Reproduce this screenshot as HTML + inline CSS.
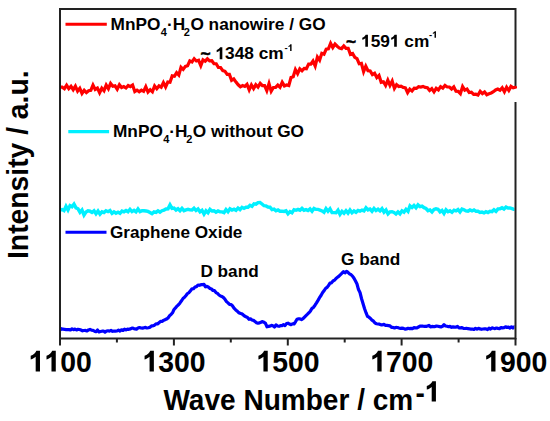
<!DOCTYPE html>
<html><head><meta charset="utf-8"><style>
html,body{margin:0;padding:0;background:#fff;width:550px;height:421px;overflow:hidden}
svg{display:block}
text{font-family:"Liberation Sans",sans-serif;font-weight:bold;fill:#000;white-space:pre}
</style></head><body>
<svg width="550" height="421" viewBox="0 0 550 421">
<rect x="0" y="0" width="550" height="421" fill="#fff"/>
<defs><clipPath id="cp"><rect x="61" y="0" width="489" height="421"/></clipPath><clipPath id="cp2"><rect x="61" y="0" width="453.5" height="421"/></clipPath></defs>
<g fill="none" stroke-linejoin="round" stroke-linecap="round" clip-path="url(#cp2)">
<path d="M60.0,330.0 L61.5,328.7 L63.0,329.2 L64.5,329.3 L66.0,329.6 L67.5,329.6 L69.0,329.6 L70.5,330.0 L72.0,328.8 L73.5,329.7 L75.0,329.1 L76.5,330.0 L78.0,329.3 L79.5,329.5 L81.0,330.0 L82.5,330.8 L84.0,330.5 L85.5,330.4 L87.0,331.0 L88.5,329.9 L90.0,329.4 L91.5,330.2 L93.0,330.4 L94.5,331.2 L96.0,331.7 L97.5,330.0 L99.0,331.9 L100.5,331.5 L102.0,331.2 L103.5,331.0 L105.0,332.1 L106.5,331.0 L108.0,330.8 L109.5,331.1 L111.0,330.4 L112.5,331.3 L114.0,331.0 L115.5,331.1 L117.0,331.0 L118.5,330.1 L120.0,331.1 L121.5,329.8 L123.0,330.5 L124.5,329.1 L126.0,329.9 L127.5,329.1 L129.0,329.3 L130.5,328.9 L132.0,328.0 L133.5,328.4 L135.0,328.9 L136.5,329.1 L138.0,328.0 L139.5,327.5 L141.0,328.0 L142.5,328.2 L144.0,327.7 L145.5,327.4 L147.0,328.0 L148.5,327.7 L150.0,327.2 L151.5,325.9 L153.0,325.9 L154.5,325.2 L156.0,323.8 L157.5,324.0 L159.0,322.7 L160.5,321.4 L162.0,321.5 L163.5,320.4 L165.0,319.7 L166.5,319.1 L168.0,318.0 L169.5,315.8 L171.0,314.6 L172.5,312.8 L174.0,309.5 L175.5,307.9 L177.0,306.1 L178.5,304.8 L180.0,302.9 L181.5,300.8 L183.0,298.5 L184.5,297.3 L186.0,295.5 L187.5,293.5 L189.0,292.6 L190.5,290.7 L192.0,288.8 L193.5,288.7 L195.0,287.0 L196.5,286.6 L198.0,285.0 L199.5,285.3 L201.0,284.7 L202.5,284.6 L204.0,284.4 L205.5,286.8 L207.0,286.3 L208.5,287.2 L210.0,288.5 L211.5,289.0 L213.0,290.5 L214.5,290.7 L216.0,292.6 L217.5,293.4 L219.0,295.0 L220.5,296.0 L222.0,296.5 L223.5,297.6 L225.0,299.3 L226.5,301.6 L228.0,302.9 L229.5,304.4 L231.0,304.6 L232.5,305.8 L234.0,308.2 L235.5,309.7 L237.0,310.9 L238.5,312.5 L240.0,313.3 L241.5,313.7 L243.0,314.7 L244.5,316.0 L246.0,316.8 L247.5,317.4 L249.0,319.3 L250.5,318.9 L252.0,320.0 L253.5,320.4 L255.0,321.5 L256.5,322.7 L258.0,323.2 L259.5,322.9 L261.0,322.2 L262.5,321.6 L264.0,322.3 L265.5,323.4 L267.0,326.8 L268.5,326.4 L270.0,326.1 L271.5,325.4 L273.0,325.7 L274.5,327.0 L276.0,324.9 L277.5,326.0 L279.0,326.3 L280.5,325.7 L282.0,325.6 L283.5,324.7 L285.0,325.6 L286.5,323.6 L288.0,323.2 L289.5,324.1 L291.0,324.7 L292.5,323.9 L294.0,324.0 L295.5,321.8 L297.0,319.2 L298.5,318.8 L300.0,318.9 L301.5,319.6 L303.0,318.7 L304.5,317.1 L306.0,315.6 L307.5,314.2 L309.0,312.7 L310.5,310.9 L312.0,308.3 L313.5,307.3 L315.0,305.2 L316.5,302.9 L318.0,300.4 L319.5,297.7 L321.0,295.5 L322.5,292.8 L324.0,290.8 L325.5,288.5 L327.0,287.4 L328.5,285.6 L330.0,283.0 L331.5,282.8 L333.0,281.0 L334.5,280.2 L336.0,278.4 L337.5,277.2 L339.0,276.1 L340.5,274.7 L342.0,273.2 L343.5,271.6 L345.0,272.9 L346.5,271.3 L348.0,272.4 L349.5,273.8 L351.0,274.7 L352.5,276.1 L354.0,278.2 L355.5,281.0 L357.0,284.0 L358.5,289.6 L360.0,292.5 L361.5,298.5 L363.0,303.5 L364.5,308.5 L366.0,312.7 L367.5,316.3 L369.0,317.2 L370.5,318.5 L372.0,320.2 L373.5,321.2 L375.0,323.1 L376.5,323.7 L378.0,324.0 L379.5,324.2 L381.0,324.8 L382.5,324.8 L384.0,324.4 L385.5,325.3 L387.0,325.4 L388.5,325.6 L390.0,325.9 L391.5,327.4 L393.0,327.4 L394.5,327.9 L396.0,327.4 L397.5,327.5 L399.0,328.0 L400.5,328.4 L402.0,328.2 L403.5,328.4 L405.0,329.1 L406.5,328.9 L408.0,328.3 L409.5,328.6 L411.0,328.4 L412.5,328.6 L414.0,327.7 L415.5,327.8 L417.0,327.8 L418.5,327.0 L420.0,326.2 L421.5,326.0 L423.0,326.2 L424.5,326.3 L426.0,326.4 L427.5,325.9 L429.0,325.4 L430.5,326.9 L432.0,326.4 L433.5,326.6 L435.0,326.6 L436.5,326.0 L438.0,326.3 L439.5,326.6 L441.0,326.9 L442.5,326.3 L444.0,324.7 L445.5,326.0 L447.0,326.3 L448.5,326.7 L450.0,326.4 L451.5,327.3 L453.0,326.9 L454.5,327.1 L456.0,327.2 L457.5,326.4 L459.0,327.8 L460.5,327.9 L462.0,327.6 L463.5,328.4 L465.0,328.5 L466.5,328.3 L468.0,328.7 L469.5,328.8 L471.0,329.2 L472.5,329.0 L474.0,329.5 L475.5,328.3 L477.0,329.1 L478.5,328.3 L480.0,328.9 L481.5,329.3 L483.0,329.0 L484.5,328.8 L486.0,328.9 L487.5,329.6 L489.0,328.2 L490.5,329.1 L492.0,327.9 L493.5,328.3 L495.0,328.6 L496.5,328.0 L498.0,328.4 L499.5,328.6 L501.0,327.5 L502.5,327.9 L504.0,327.7 L505.5,326.8 L507.0,327.5 L508.5,327.1 L510.0,328.1 L511.5,326.8 L513.0,328.0 L514.5,326.8" stroke="#0000ff" stroke-width="3.2"/>
<path d="M60.0,209.8 L62.0,209.6 L64.0,210.6 L66.0,206.3 L68.0,209.9 L70.0,205.6 L72.0,206.8 L74.0,204.1 L76.0,207.9 L78.0,208.8 L80.0,212.3 L82.0,210.0 L84.0,215.1 L86.0,212.1 L88.0,210.8 L90.0,211.2 L92.0,212.5 L94.0,210.8 L96.0,213.8 L98.0,211.0 L100.0,214.2 L102.0,211.8 L104.0,212.6 L106.0,210.8 L108.0,211.7 L110.0,210.5 L112.0,213.4 L114.0,211.8 L116.0,213.2 L118.0,212.1 L120.0,213.3 L122.0,211.1 L124.0,211.8 L126.0,210.6 L128.0,211.8 L130.0,209.3 L132.0,211.6 L134.0,210.3 L136.0,211.9 L138.0,209.0 L140.0,211.7 L142.0,210.7 L144.0,210.7 L146.0,211.0 L148.0,211.4 L150.0,212.5 L152.0,213.7 L154.0,211.9 L156.0,212.4 L158.0,210.8 L160.0,212.2 L162.0,210.7 L164.0,210.1 L166.0,209.0 L168.0,208.8 L170.0,204.9 L172.0,208.4 L174.0,208.1 L176.0,210.0 L178.0,208.7 L180.0,210.7 L182.0,208.3 L184.0,210.6 L186.0,209.8 L188.0,209.3 L190.0,209.9 L192.0,210.0 L194.0,208.2 L196.0,210.5 L198.0,209.0 L200.0,211.8 L202.0,210.3 L204.0,214.1 L206.0,210.8 L208.0,212.7 L210.0,209.3 L212.0,211.0 L214.0,210.7 L216.0,212.2 L218.0,211.0 L220.0,211.9 L222.0,211.9 L224.0,212.6 L226.0,209.5 L228.0,211.8 L230.0,208.8 L232.0,210.0 L234.0,209.2 L236.0,210.3 L238.0,208.0 L240.0,209.6 L242.0,207.3 L244.0,208.4 L246.0,207.2 L248.0,207.3 L250.0,205.3 L252.0,206.4 L254.0,203.8 L256.0,204.2 L258.0,202.6 L260.0,202.4 L262.0,204.0 L264.0,205.7 L266.0,205.9 L268.0,207.0 L270.0,207.2 L272.0,209.6 L274.0,209.1 L276.0,210.8 L278.0,210.0 L280.0,211.3 L282.0,211.1 L284.0,211.4 L286.0,210.8 L288.0,213.8 L290.0,211.7 L292.0,212.8 L294.0,209.7 L296.0,210.3 L298.0,209.4 L300.0,210.3 L302.0,208.4 L304.0,210.3 L306.0,209.6 L308.0,210.5 L310.0,208.9 L312.0,211.2 L314.0,208.4 L316.0,209.4 L318.0,209.4 L320.0,210.1 L322.0,210.9 L324.0,212.3 L326.0,208.6 L328.0,211.3 L330.0,208.8 L332.0,212.6 L334.0,212.6 L336.0,212.8 L338.0,210.2 L340.0,214.3 L342.0,211.4 L344.0,213.2 L346.0,210.7 L348.0,213.1 L350.0,210.0 L352.0,212.8 L354.0,211.0 L356.0,212.3 L358.0,210.5 L360.0,211.2 L362.0,210.1 L364.0,210.9 L366.0,207.8 L368.0,209.9 L370.0,209.0 L372.0,211.2 L374.0,208.4 L376.0,210.6 L378.0,209.2 L380.0,210.9 L382.0,208.6 L384.0,212.1 L386.0,210.0 L388.0,213.8 L390.0,211.8 L392.0,211.7 L394.0,212.4 L396.0,214.0 L398.0,211.9 L400.0,213.8 L402.0,210.8 L404.0,212.2 L406.0,209.3 L408.0,211.3 L410.0,205.9 L412.0,207.5 L414.0,205.5 L416.0,207.7 L418.0,204.9 L420.0,206.7 L422.0,206.1 L424.0,207.7 L426.0,208.5 L428.0,210.7 L430.0,210.0 L432.0,212.0 L434.0,209.5 L436.0,208.8 L438.0,209.3 L440.0,211.9 L442.0,210.5 L444.0,213.5 L446.0,209.8 L448.0,211.8 L450.0,210.8 L452.0,212.3 L454.0,210.2 L456.0,210.9 L458.0,209.6 L460.0,211.9 L462.0,209.1 L464.0,209.7 L466.0,210.9 L468.0,211.3 L470.0,210.0 L472.0,210.9 L474.0,209.9 L476.0,211.3 L478.0,211.3 L480.0,212.5 L482.0,212.1 L484.0,212.9 L486.0,211.7 L488.0,212.5 L490.0,211.3 L492.0,211.6 L494.0,209.8 L496.0,211.3 L498.0,208.9 L500.0,208.8 L502.0,207.7 L504.0,209.0 L506.0,207.1 L508.0,208.0 L510.0,207.9 L512.0,208.6 L514.0,209.3" stroke="#00f0ff" stroke-width="3.4" stroke-linejoin="miter"/>
</g>
<g stroke="#222" stroke-width="2" fill="none">
<rect x="60" y="9" width="455.5" height="329.5"/>
<line x1="60.0" y1="338" x2="60.0" y2="345.5"/><line x1="116.9" y1="338" x2="116.9" y2="342.5"/><line x1="173.9" y1="338" x2="173.9" y2="345.5"/><line x1="230.8" y1="338" x2="230.8" y2="342.5"/><line x1="287.8" y1="338" x2="287.8" y2="345.5"/><line x1="344.7" y1="338" x2="344.7" y2="342.5"/><line x1="401.6" y1="338" x2="401.6" y2="345.5"/><line x1="458.6" y1="338" x2="458.6" y2="342.5"/><line x1="515.5" y1="338" x2="515.5" y2="345.5"/>
</g>
<rect x="513" y="87" width="5" height="15" fill="#fff"/>
<path clip-path="url(#cp)" d="M60.0,87.2 L62.2,87.2 L64.4,88.7 L66.6,85.2 L68.8,88.7 L71.0,86.4 L73.2,89.7 L75.4,86.2 L77.6,91.1 L79.8,88.3 L82.0,93.4 L84.2,90.3 L86.4,92.6 L88.6,90.7 L90.8,90.3 L93.0,85.1 L95.2,89.4 L97.4,88.1 L99.6,92.7 L101.8,88.2 L104.0,90.7 L106.2,85.1 L108.4,88.7 L110.6,83.4 L112.8,86.2 L115.0,85.8 L117.2,89.2 L119.4,84.7 L121.6,87.5 L123.8,86.6 L126.0,88.0 L128.2,85.5 L130.4,86.6 L132.6,85.0 L134.8,91.5 L137.0,90.1 L139.2,91.8 L141.4,90.2 L143.6,91.4 L145.8,86.7 L148.0,92.0 L150.2,89.7 L152.4,91.7 L154.6,85.9 L156.8,88.7 L159.0,85.9 L161.2,87.2 L163.4,82.6 L165.6,87.0 L167.8,82.0 L170.0,82.3 L172.2,75.9 L174.4,76.3 L176.6,72.6 L178.8,75.1 L181.0,67.3 L183.2,69.4 L185.4,66.4 L187.6,65.7 L189.8,60.9 L192.0,62.0 L194.2,58.7 L196.4,61.0 L198.6,60.3 L200.8,65.7 L203.0,59.9 L205.2,61.2 L207.4,58.8 L209.6,60.9 L211.8,60.7 L214.0,63.6 L216.2,63.7 L218.4,67.5 L220.6,67.5 L222.8,70.6 L225.0,71.3 L227.2,74.4 L229.4,74.4 L231.6,80.4 L233.8,79.0 L236.0,82.1 L238.2,84.8 L240.4,86.8 L242.6,85.6 L244.8,86.4 L247.0,84.3 L249.2,89.9 L251.4,84.9 L253.6,88.6 L255.8,84.7 L258.0,87.1 L260.2,83.4 L262.4,85.7 L264.6,85.7 L266.8,90.7 L269.0,83.6 L271.2,91.2 L273.4,87.5 L275.6,87.4 L277.8,85.1 L280.0,87.3 L282.2,82.3 L284.4,85.9 L286.6,85.0 L288.8,85.6 L291.0,77.5 L293.2,76.7 L295.4,69.6 L297.6,73.7 L299.8,68.8 L302.0,70.7 L304.2,68.4 L306.4,68.7 L308.6,64.1 L310.8,64.2 L313.0,61.0 L315.2,66.1 L317.4,57.1 L319.6,60.2 L321.8,53.3 L324.0,54.2 L326.2,49.1 L328.4,48.8 L330.6,43.4 L332.8,47.6 L335.0,44.1 L337.2,46.2 L339.4,48.1 L341.6,48.6 L343.8,46.0 L346.0,48.4 L348.2,48.3 L350.4,54.4 L352.6,53.5 L354.8,57.4 L357.0,58.7 L359.2,63.8 L361.4,63.4 L363.6,71.7 L365.8,66.2 L368.0,70.7 L370.2,70.9 L372.4,74.6 L374.6,73.3 L376.8,77.6 L379.0,75.4 L381.2,82.3 L383.4,81.8 L385.6,85.5 L387.8,80.1 L390.0,85.4 L392.2,81.1 L394.4,88.4 L396.6,84.7 L398.8,86.5 L401.0,86.2 L403.2,87.4 L405.4,87.8 L407.6,92.7 L409.8,89.1 L412.0,90.9 L414.2,88.2 L416.4,88.4 L418.6,86.7 L420.8,87.0 L423.0,86.4 L425.2,87.4 L427.4,87.8 L429.6,90.4 L431.8,88.6 L434.0,91.8 L436.2,88.3 L438.4,89.9 L440.6,86.7 L442.8,88.1 L445.0,85.5 L447.2,87.0 L449.4,87.0 L451.6,89.0 L453.8,86.9 L456.0,91.2 L458.2,91.3 L460.4,93.7 L462.6,86.6 L464.8,90.1 L467.0,89.1 L469.2,92.6 L471.4,92.2 L473.6,94.4 L475.8,94.2 L478.0,95.1 L480.2,91.3 L482.4,93.6 L484.6,91.9 L486.8,94.7 L489.0,93.7 L491.2,93.0 L493.4,91.7 L495.6,90.0 L497.8,89.0 L500.0,90.2 L502.2,87.7 L504.4,91.7 L506.6,87.2 L508.8,90.5 L511.0,86.4 L513.2,87.8 L515.4,87.3" fill="none" stroke="#ff0000" stroke-width="3.2" stroke-linejoin="miter" stroke-linecap="round"/>
<g stroke-width="3" fill="none">
<line x1="65.5" y1="24.3" x2="106.8" y2="24.3" stroke="#ff0000"/>
<line x1="68.3" y1="131.6" x2="109.1" y2="131.6" stroke="#00f0ff" stroke-width="3.4"/>
<line x1="65.5" y1="232.2" x2="106.5" y2="232.2" stroke="#0000ff"/>
</g>
<g fill="#000">
<text x="110.55" y="30.3" font-size="17.25">MnPO</text><text x="160.78" y="36.3" font-size="11">4</text><text x="166.90" y="30.3" font-size="17.25">·H</text><text x="183.80" y="36.3" font-size="11">2</text><text x="190.42" y="30.3" font-size="17.25">O nanowire / GO</text>
<text x="113.00" y="137.1" font-size="17.25">MnPO</text><text x="163.23" y="143.29999999999998" font-size="11">4</text><text x="169.35" y="137.1" font-size="17.25">·H</text><text x="186.25" y="143.29999999999998" font-size="11">2</text><text x="192.87" y="137.1" font-size="17.25">O without GO</text>
<text x="110.0" y="238.3" font-size="17.15">Graphene Oxide</text>
<text x="200.50" y="59.20" font-size="17.3" stroke="#000" stroke-width="0.5">~ </text><path d="M820 0H510V1020C420 940 300 875 150 835V1080C240 1110 330 1160 405 1228C480 1296 530 1360 560 1428H820Z" transform="translate(215.41,59.20) scale(0.00845,-0.00845)"/><text x="225.03" y="59.20" font-size="17.3">348 cm</text><text x="284.60" y="50.90" font-size="9.5">-</text><path d="M820 0H510V1020C420 940 300 875 150 835V1080C240 1110 330 1160 405 1228C480 1296 530 1360 560 1428H820Z" transform="translate(287.76,50.90) scale(0.00464,-0.00464)"/>
<text x="346.10" y="46.80" font-size="17.3" stroke="#000" stroke-width="0.5">~ </text><path d="M820 0H510V1020C420 940 300 875 150 835V1080C240 1110 330 1160 405 1228C480 1296 530 1360 560 1428H820Z" transform="translate(361.01,46.80) scale(0.00845,-0.00845)"/><text x="370.63" y="46.80" font-size="17.3">59</text><path d="M820 0H510V1020C420 940 300 875 150 835V1080C240 1110 330 1160 405 1228C480 1296 530 1360 560 1428H820Z" transform="translate(389.87,46.80) scale(0.00845,-0.00845)"/><text x="399.50" y="46.80" font-size="17.3"> cm</text><text x="429.00" y="37.80" font-size="9.5">-</text><path d="M820 0H510V1020C420 940 300 875 150 835V1080C240 1110 330 1160 405 1228C480 1296 530 1360 560 1428H820Z" transform="translate(432.16,37.80) scale(0.00464,-0.00464)"/>
<text x="200.4" y="276.9" font-size="17.2">D band</text>
<text x="341.0" y="264.9" font-size="17.23">G band</text>
<g transform="translate(0,371.6) scale(1,1.05)"><path d="M820 0H510V1020C420 940 300 875 150 835V1080C240 1110 330 1160 405 1228C480 1296 530 1360 560 1428H820Z" transform="translate(28.61,0.00) scale(0.01387,-0.01387)"/><path d="M820 0H510V1020C420 940 300 875 150 835V1080C240 1110 330 1160 405 1228C480 1296 530 1360 560 1428H820Z" transform="translate(44.41,0.00) scale(0.01387,-0.01387)"/><text x="60.20" y="0.00" font-size="28.4">00</text></g><g transform="translate(0,371.6) scale(1,1.05)"><path d="M820 0H510V1020C420 940 300 875 150 835V1080C240 1110 330 1160 405 1228C480 1296 530 1360 560 1428H820Z" transform="translate(142.49,0.00) scale(0.01387,-0.01387)"/><text x="158.28" y="0.00" font-size="28.4">300</text></g><g transform="translate(0,371.6) scale(1,1.05)"><path d="M820 0H510V1020C420 940 300 875 150 835V1080C240 1110 330 1160 405 1228C480 1296 530 1360 560 1428H820Z" transform="translate(256.36,0.00) scale(0.01387,-0.01387)"/><text x="272.16" y="0.00" font-size="28.4">500</text></g><g transform="translate(0,371.6) scale(1,1.05)"><path d="M820 0H510V1020C420 940 300 875 150 835V1080C240 1110 330 1160 405 1228C480 1296 530 1360 560 1428H820Z" transform="translate(370.24,0.00) scale(0.01387,-0.01387)"/><text x="386.03" y="0.00" font-size="28.4">700</text></g><g transform="translate(0,371.6) scale(1,1.05)"><path d="M820 0H510V1020C420 940 300 875 150 835V1080C240 1110 330 1160 405 1228C480 1296 530 1360 560 1428H820Z" transform="translate(484.11,0.00) scale(0.01387,-0.01387)"/><text x="499.91" y="0.00" font-size="28.4">900</text></g>
<g transform="translate(0,410.4) scale(1,1.04)"><text x="163.40" y="0.00" font-size="28.05">Wave Number / cm</text><text x="415.40" y="-7.40" font-size="28.0">-</text><path d="M820 0H510V1020C420 940 300 875 150 835V1080C240 1110 330 1160 405 1228C480 1296 530 1360 560 1428H820Z" transform="translate(424.72,-8.60) scale(0.01367,-0.01367)"/></g>
<text transform="translate(28.35,257.1) rotate(-90) scale(1,1.03)" x="-1.9" y="0" font-size="28.29">Intensity / a.u.</text>
</g>
</svg>
</body></html>
